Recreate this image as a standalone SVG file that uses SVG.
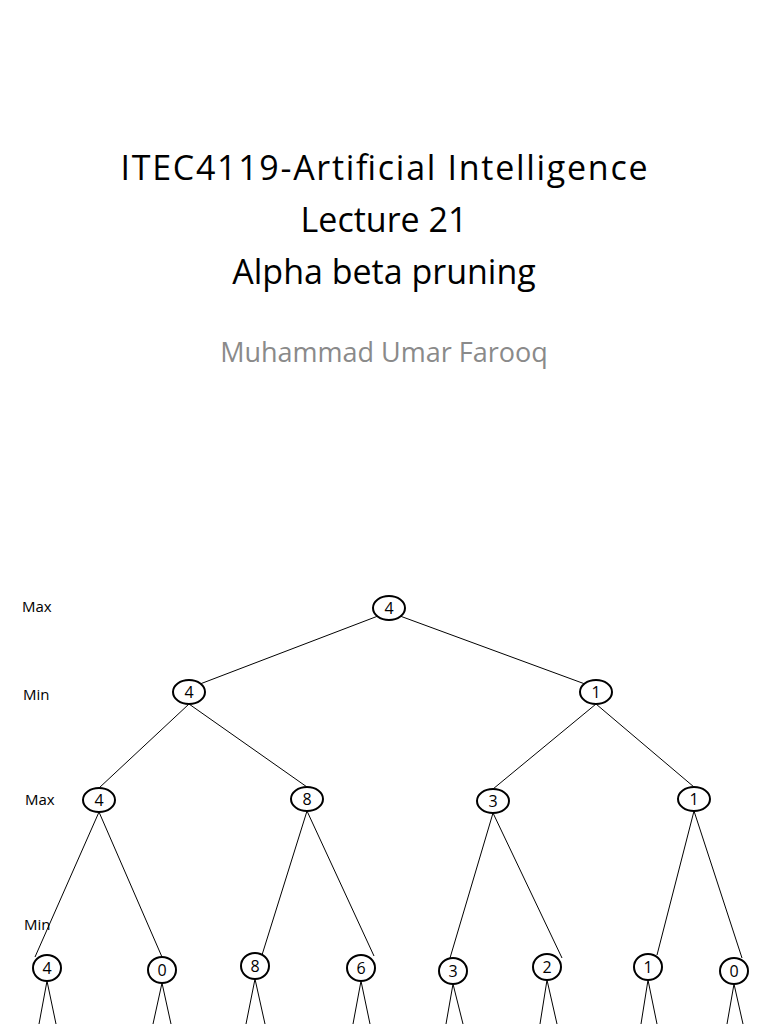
<svg xmlns="http://www.w3.org/2000/svg" width="768" height="1024" viewBox="0 0 768 1024">
<style>
.t{font-family:"Open Sans","Liberation Sans",sans-serif;text-anchor:middle;fill:#000}
.n ellipse{fill:#fff;stroke:#000;stroke-width:2}
.n text{font-family:"Open Sans","Liberation Sans",sans-serif;font-size:16px;text-anchor:middle;fill:#000}
.l{font-family:"Open Sans","Liberation Sans",sans-serif;font-size:15px;fill:#000}
#edges line{stroke:#000;stroke-width:1}
</style>
<rect width="768" height="1024" fill="#fff"/>
<text class="t" x="384" y="180" font-size="34" textLength="527">ITEC4119-Artificial Intelligence</text>
<text class="t" x="384" y="232" font-size="34">Lecture 21</text>
<text class="t" x="384" y="284" font-size="34">Alpha beta pruning</text>
<text class="t" x="384" y="362" font-size="27" style="fill:#8a8a8a">Muhammad Umar Farooq</text>
<text class="l" x="22" y="612">Max</text>
<text class="l" x="23" y="700">Min</text>
<text class="l" x="25" y="805">Max</text>
<text class="l" x="24" y="930">Min</text>
<g id="edges">
<line x1="378" y1="616" x2="200" y2="684"/><line x1="400" y1="616" x2="585" y2="684"/>
<line x1="189" y1="704" x2="99" y2="788"/><line x1="189" y1="704" x2="307" y2="787"/>
<line x1="596" y1="704" x2="493" y2="789"/><line x1="596" y1="704" x2="694" y2="787"/>
<line x1="99" y1="812" x2="35" y2="957"/><line x1="99" y1="812" x2="162" y2="957"/>
<line x1="307" y1="811" x2="262" y2="955"/><line x1="307" y1="811" x2="374" y2="956"/>
<line x1="493" y1="813" x2="450" y2="958"/><line x1="493" y1="813" x2="562" y2="958"/>
<line x1="694" y1="811" x2="657" y2="955"/><line x1="694" y1="811" x2="742" y2="958"/>
<line x1="47" y1="981" x2="39" y2="1024"/><line x1="47" y1="981" x2="56" y2="1024"/>
<line x1="162" y1="983" x2="153" y2="1024"/><line x1="162" y1="983" x2="171" y2="1024"/>
<line x1="255" y1="979" x2="246" y2="1024"/><line x1="255" y1="979" x2="265" y2="1024"/>
<line x1="361" y1="981" x2="353" y2="1024"/><line x1="361" y1="981" x2="370" y2="1024"/>
<line x1="453" y1="984" x2="446" y2="1024"/><line x1="453" y1="984" x2="463" y2="1024"/>
<line x1="547" y1="980" x2="540" y2="1024"/><line x1="547" y1="980" x2="557" y2="1024"/>
<line x1="648" y1="980" x2="641" y2="1024"/><line x1="648" y1="980" x2="657" y2="1024"/>
<line x1="734" y1="984" x2="727" y2="1024"/><line x1="734" y1="984" x2="743" y2="1024"/>
</g>
<g id="n0" class="n"><ellipse cx="389" cy="608" rx="16" ry="12"/><text x="389" y="614">4</text></g>
<g id="n1" class="n"><ellipse cx="189" cy="692" rx="16" ry="12"/><text x="189" y="698">4</text></g>
<g id="n2" class="n"><ellipse cx="596" cy="692" rx="16" ry="12"/><text x="596" y="698">1</text></g>
<g id="n3" class="n"><ellipse cx="99" cy="800" rx="16" ry="12"/><text x="99" y="806">4</text></g>
<g id="n4" class="n"><ellipse cx="307" cy="799" rx="16" ry="12"/><text x="307" y="805">8</text></g>
<g id="n5" class="n"><ellipse cx="493" cy="801" rx="16" ry="12"/><text x="493" y="807">3</text></g>
<g id="n6" class="n"><ellipse cx="694" cy="799" rx="16" ry="12"/><text x="694" y="805">1</text></g>
<g id="n7" class="n"><ellipse cx="47" cy="968" rx="14" ry="13"/><text x="47" y="974">4</text></g>
<g id="n8" class="n"><ellipse cx="162" cy="970" rx="14" ry="13"/><text x="162" y="976">0</text></g>
<g id="n9" class="n"><ellipse cx="255" cy="966" rx="14" ry="13"/><text x="255" y="972">8</text></g>
<g id="n10" class="n"><ellipse cx="361" cy="968" rx="14" ry="13"/><text x="361" y="974">6</text></g>
<g id="n11" class="n"><ellipse cx="453" cy="971" rx="14" ry="13"/><text x="453" y="977">3</text></g>
<g id="n12" class="n"><ellipse cx="547" cy="967" rx="14" ry="13"/><text x="547" y="973">2</text></g>
<g id="n13" class="n"><ellipse cx="648" cy="967" rx="14" ry="13"/><text x="648" y="973">1</text></g>
<g id="n14" class="n"><ellipse cx="734" cy="971" rx="14" ry="13"/><text x="734" y="977">0</text></g>
</svg>
